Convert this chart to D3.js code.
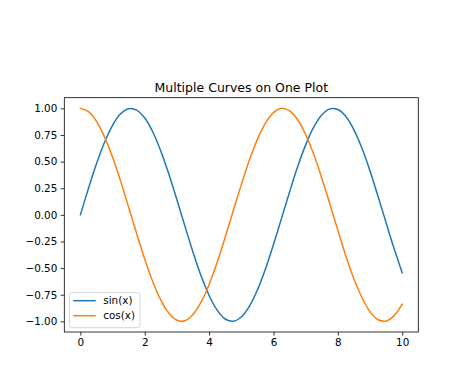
<!DOCTYPE html>
<html>
<head>
<meta charset="utf-8">
<script src="https://cdn.jsdelivr.net/npm/d3@7"></script>
<style>
  html, body { margin: 0; padding: 0; background: #fff; }
  svg { display: block; font-family: "DejaVu Sans", sans-serif; }
</style>
</head>
<body>
<svg id="chart" width="474" height="367"></svg>
<script>
// ---- data ----
const xValues = [0, 0.25, 0.5, 0.75, 1, 1.25, 1.5, 1.75, 2, 2.25, 2.5, 2.75, 3, 3.25, 3.5, 3.75, 4, 4.25, 4.5, 4.75, 5, 5.25, 5.5, 5.75, 6, 6.25, 6.5, 6.75, 7, 7.25, 7.5, 7.75, 8, 8.25, 8.5, 8.75, 9, 9.25, 9.5, 9.75, 10];
const sinValues = [0, 0.247, 0.479, 0.682, 0.841, 0.949, 0.997, 0.984, 0.909, 0.778, 0.598, 0.382, 0.141, -0.108, -0.351, -0.572, -0.757, -0.895, -0.978, -0.999, -0.959, -0.859, -0.706, -0.508, -0.279, -0.033, 0.215, 0.451, 0.657, 0.823, 0.938, 0.995, 0.989, 0.923, 0.798, 0.625, 0.412, 0.173, -0.075, -0.319, -0.544];
const cosValues = [1, 0.969, 0.878, 0.732, 0.540, 0.315, 0.071, -0.178, -0.416, -0.628, -0.801, -0.924, -0.990, -0.994, -0.936, -0.820, -0.654, -0.446, -0.211, 0.038, 0.284, 0.513, 0.709, 0.861, 0.960, 1.000, 0.977, 0.893, 0.754, 0.568, 0.347, 0.103, -0.146, -0.388, -0.602, -0.776, -0.911, -0.985, -0.997, -0.946, -0.839];
const seriesNames = ["sin(x)", "cos(x)"];
const xTicks = [0, 2, 4, 6, 8, 10];
const yTicks = [-1.00, -0.75, -0.50, -0.25, 0.00, 0.25, 0.50, 0.75, 1.00];
const titleText = "Multiple Curves on One Plot";

// ---- layout ----
const W = 474, H = 367;
const plot = { left: 64.3, right: 418.3, top: 97.7, bottom: 332 };
const colors = ["#1f77b4", "#ff7f0e"];

const svg = d3.select("#chart");
svg.append("rect").attr("width", W).attr("height", H).attr("fill", "#fff");

const x = d3.scaleLinear().domain([-0.5, 10.5]).range([plot.left, plot.right]);
const y = d3.scaleLinear().domain([-1.1, 1.1]).range([plot.bottom, plot.top]);

const series = [sinValues, cosValues];
const line = d3.line()
  .x((d, i) => x(xValues[i]))
  .y(d => y(d))
  .curve(d3.curveCatmullRom);

const g = svg.append("g");
g.append("clipPath").attr("id", "clip").append("rect")
  .attr("x", plot.left).attr("y", plot.top)
  .attr("width", plot.right - plot.left).attr("height", plot.bottom - plot.top);

series.forEach((s, k) => {
  g.append("path")
    .attr("d", line(s))
    .attr("fill", "none")
    .attr("stroke", colors[k])
    .attr("stroke-width", 1.5)
    .attr("stroke-linejoin", "round")
    .attr("stroke-linecap", "square")
    .attr("clip-path", "url(#clip)");
});

// axes
const xAxis = d3.axisBottom(x).tickValues(xTicks).tickFormat(d3.format("d"))
  .tickSize(3.6).tickPadding(3.4);
const yAxis = d3.axisLeft(y).tickValues(yTicks).tickFormat(d3.format(".2f"))
  .tickSize(3.6).tickPadding(3.4);

const gx = svg.append("g").attr("transform", `translate(0,${plot.bottom})`).call(xAxis);
const gy = svg.append("g").attr("transform", `translate(${plot.left},0)`).call(yAxis);
[gx, gy].forEach(a => {
  a.select(".domain").remove();
  a.selectAll(".tick line").attr("stroke", "#000").attr("stroke-width", 0.8);
  a.selectAll(".tick text").attr("fill", "#000")
    .style("font-family", "DejaVu Sans").style("font-size", "10.4px");
});
gy.selectAll(".tick text").text(d => d3.format(".2f")(d).replace("-", "\u2212"));

// spines
svg.append("rect")
  .attr("x", plot.left).attr("y", plot.top)
  .attr("width", plot.right - plot.left).attr("height", plot.bottom - plot.top)
  .attr("fill", "none").attr("stroke", "#000").attr("stroke-width", 0.8);

// title
svg.append("text")
  .attr("x", (plot.left + plot.right) / 2)
  .attr("y", plot.top - 5.5)
  .attr("text-anchor", "middle")
  .style("font-size", "12.5px")
  .attr("fill", "#000")
  .text(titleText);

// legend
const lg = svg.append("g");
lg.append("rect")
  .attr("x", 69.3).attr("y", 292.7)
  .attr("width", 70.7).attr("height", 35)
  .attr("rx", 2.2).attr("ry", 2.2)
  .attr("fill", "#fff").attr("fill-opacity", 0.8)
  .attr("stroke", "#cccccc").attr("stroke-width", 0.8);
seriesNames.forEach((name, k) => {
  const cy = 300.7 + k * 15;
  lg.append("line")
    .attr("x1", 73.3).attr("x2", 95.7)
    .attr("y1", cy).attr("y2", cy)
    .attr("stroke", colors[k]).attr("stroke-width", 1.5);
  lg.append("text")
    .attr("x", 103.3).attr("y", cy)
    .attr("dy", "0.35em")
    .style("font-size", "10.4px")
    .attr("fill", "#000")
    .text(name);
});
</script>
</body>
</html>
